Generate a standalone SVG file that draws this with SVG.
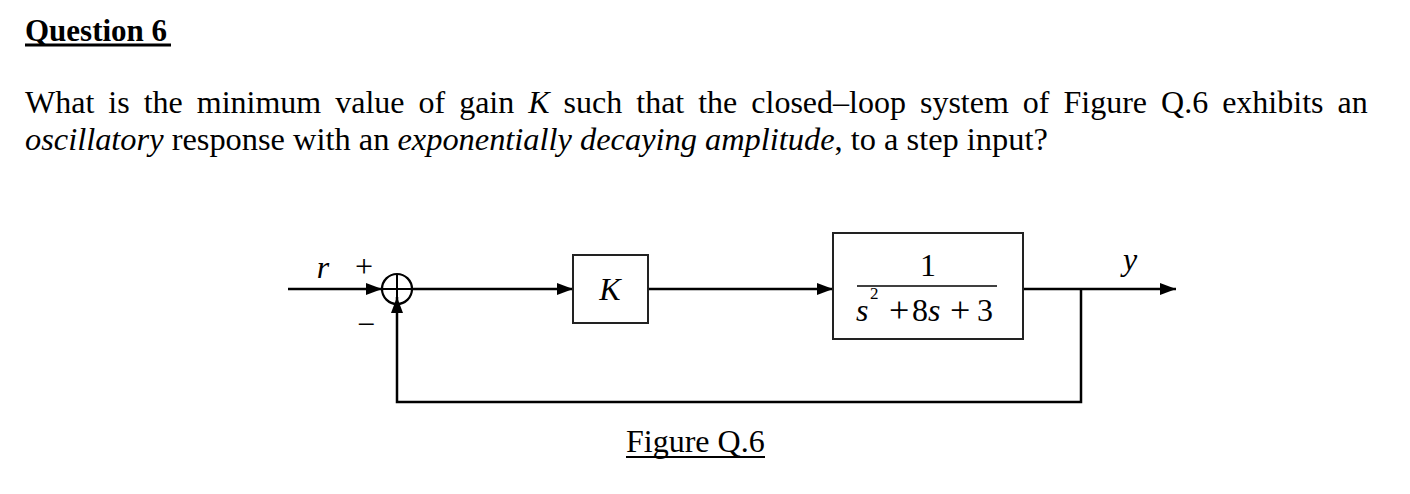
<svg xmlns="http://www.w3.org/2000/svg" width="1410" height="494" viewBox="0 0 1410 494">
<style>
.t{font-family:"Liberation Serif","Times New Roman",serif;fill:#000}
.i{font-style:italic}
.ln{stroke:#000;stroke-width:2.5;fill:none}
.bx{stroke:#222;stroke-width:2;fill:#fff}
</style>
<defs>
<marker id="ah" viewBox="0 0 16 12" refX="16" refY="6" markerWidth="16" markerHeight="12" markerUnits="userSpaceOnUse" orient="auto">
<path d="M0,0 L16,6 L0,12 Z" fill="#000"/>
</marker>
</defs>
<rect width="1410" height="494" fill="#fff"/>
<g id="title">
<text class="t" x="25" y="41" font-size="31" font-weight="bold">Question 6</text>
<line x1="25" y1="45" x2="171" y2="45" stroke="#000" stroke-width="3"/>
</g>
<g id="question">
<text class="t" x="25" y="113" font-size="32" word-spacing="6">What is the minimum value of gain <tspan class="i">K</tspan> such that the closed–loop system of Figure Q.6 exhibits an</text>
<text class="t" x="25" y="150" font-size="32.4"><tspan class="i">oscillatory</tspan> response with an <tspan class="i">exponentially decaying amplitude</tspan>, to a step input?</text>
</g>
<g id="connectors">
<line class="ln" x1="288" y1="289" x2="382" y2="289" marker-end="url(#ah)"/>
<line class="ln" x1="412" y1="289" x2="573" y2="289" marker-end="url(#ah)"/>
<line class="ln" x1="648" y1="289" x2="833" y2="289" marker-end="url(#ah)"/>
<line class="ln" x1="1023" y1="289" x2="1176" y2="289" marker-end="url(#ah)"/>
<polyline class="ln" points="1081,289 1081,402 397,402 397,297" marker-end="url(#ah)"/>
</g>
<g id="sum">
<circle cx="397" cy="289" r="15" fill="none" stroke="#000" stroke-width="2.2"/>
<line x1="382" y1="289" x2="412" y2="289" stroke="#000" stroke-width="2"/>
<line x1="397" y1="274" x2="397" y2="304" stroke="#000" stroke-width="2"/>
<text class="t i" x="323" y="278" font-size="32" text-anchor="middle">r</text>
<text class="t" x="364" y="277" font-size="32" text-anchor="middle">+</text>
<text class="t" x="366" y="335" font-size="32" text-anchor="middle">−</text>
</g>
<g id="gainK">
<rect class="bx" x="573" y="255" width="75" height="68"/>
<text class="t i" x="610" y="300" font-size="32" text-anchor="middle">K</text>
</g>
<g id="plant">
<rect class="bx" x="833" y="233" width="190" height="106"/>
<text class="t" x="928" y="276" font-size="32" text-anchor="middle">1</text>
<line x1="857" y1="286" x2="997" y2="286" stroke="#000" stroke-width="1.5"/>
<text class="t" y="321" font-size="32"><tspan class="i" x="856">s</tspan><tspan x="870" y="299" font-size="17">2</tspan><tspan x="889" y="322" font-size="36">+</tspan><tspan x="912" y="321">8</tspan><tspan class="i" x="928">s</tspan><tspan x="950" y="322" font-size="36">+</tspan><tspan x="977" y="321">3</tspan></text>
</g>
<g id="output">
<text class="t i" x="1130" y="270" font-size="32" text-anchor="middle">y</text>
</g>
<g id="caption">
<text class="t" x="626" y="452" font-size="32">Figure Q.6</text>
<line x1="626" y1="457" x2="765" y2="457" stroke="#000" stroke-width="2"/>
</g>
</svg>
